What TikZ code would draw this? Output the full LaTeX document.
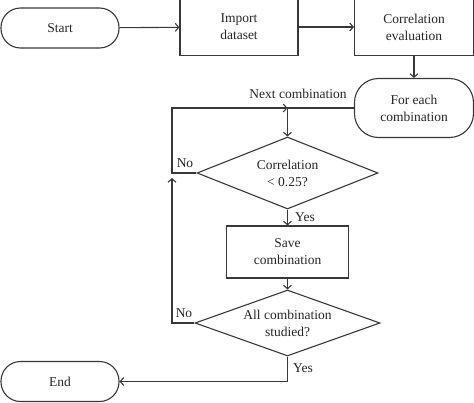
\documentclass[tikz,border=0pt]{standalone}
\usepackage{fontspec}
\setmainfont{Liberation Serif}
\usetikzlibrary{shapes.geometric,arrows.meta}
\begin{document}
\begin{tikzpicture}[x=1pt,y=-1pt,
  every node/.style={font=\fontsize{13.5}{17}\selectfont, text=black!85, align=center},
  ln/.style={draw=black!78, line width=1.1pt},
  arr/.style={ln, -{Straight Barb[length=3.5pt,width=8pt]}},
  term/.style={ln, rectangle, rounded corners=19.5pt, minimum width=118pt, minimum height=40pt, inner sep=0pt},
  proc/.style={ln, rectangle, inner sep=0pt},
  dec/.style={ln, diamond, inner sep=0pt},
  lbl/.style={inner sep=0pt}]
\useasboundingbox (0,0) rectangle (474,402);
\begin{scope}
\clip (0,0) rectangle (474,402);
\node[term] (start) at (60,28) {Start};
\node[proc, minimum width=118pt, minimum height=57pt] (import) at (239,27) {Import\\dataset};
\node[proc, minimum width=119pt, minimum height=57pt] (corr) at (414,27) {Correlation\\evaluation};
\node[term, rounded corners=24pt, minimum width=119pt, minimum height=59pt] (foreach) at (414,108) {For each\\combination};
\node[dec, minimum width=181pt, minimum height=72pt] (d1) at (287.5,173) {};
\node[lbl] (d1t) at (d1.center) {Correlation\\< 0.25?};
\node[proc, minimum width=122pt, minimum height=52pt] (save) at (287.5,252) {Save\\combination};
\node[dec, minimum width=185pt, minimum height=66pt] (d2) at (287.5,323) {};
\node[lbl] (d2t) at (d2.center) {All combination\\studied?};
\node[term] (end) at (60,381.5) {End};

\node[lbl] (nextlbl) at (298,94) {Next combination};
\node[lbl] (no1) at (185,163) {No};
\node[lbl] (no2) at (184,313) {No};
\node[lbl] (yes1) at (305,217) {Yes};
\node[lbl] (yes2) at (303,368) {Yes};

\coordinate (jn) at (287.5,108);
\coordinate (lx) at (172,108);
\coordinate (up) at (172,178);

\draw[arr] (start) -- (import);
\draw[arr] (import) -- (corr);
\draw[arr] (corr) -- (foreach);
\draw[arr] (foreach.west) -| (d1.north);
\draw[arr] (d1.west) -| (lx) -- (jn);
\draw[arr] (d1.south) -- (save.north);
\draw[arr] (save.south) -- (d2.north);
\draw[arr] (d2.west) -| (up);
\draw[arr] (d2.south) |- (end.east);
\end{scope}
\end{tikzpicture}
\end{document}
